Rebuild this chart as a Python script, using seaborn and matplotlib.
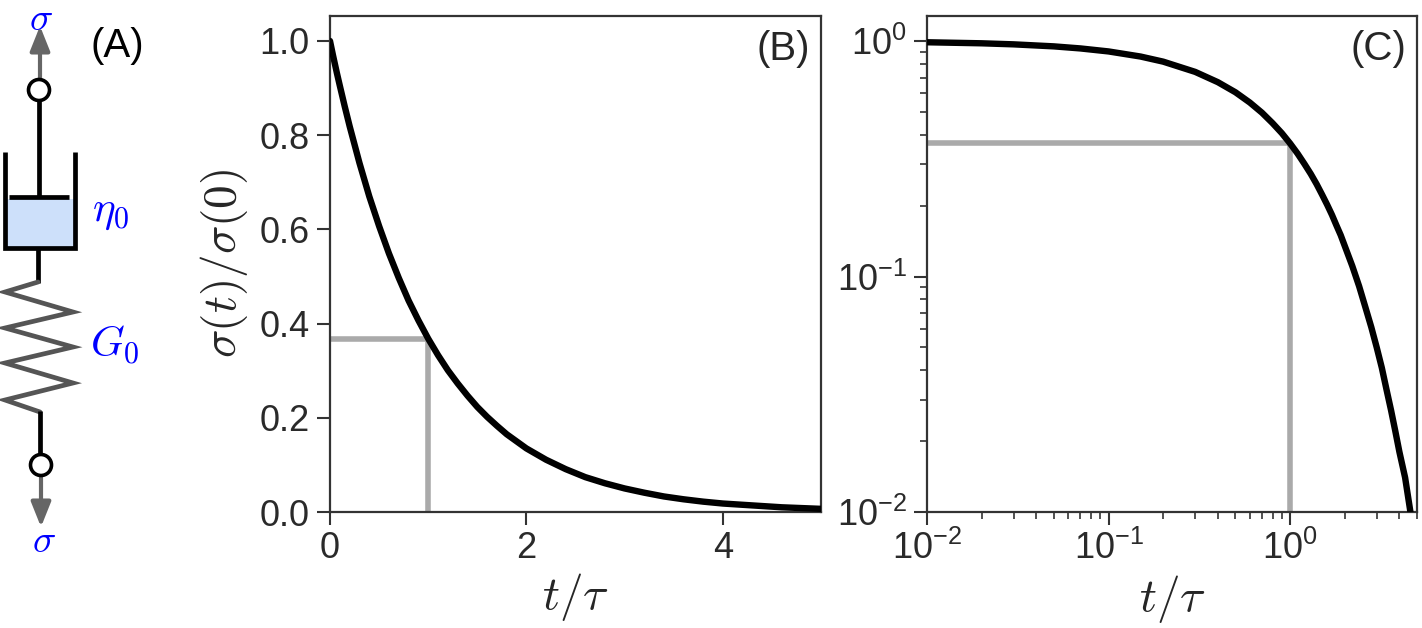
import numpy as np
import pandas as pd
import matplotlib
matplotlib.use('Agg')
import matplotlib.pyplot as plt
import seaborn as sns
from matplotlib.patches import Circle, Rectangle
from matplotlib.ticker import LogLocator, LogFormatterMathtext, NullFormatter

# ---- data ----
t_over_tau = [0, 0.01, 0.02, 0.03, 0.05, 0.07, 0.1, 0.15, 0.2, 0.3, 0.4, 0.5,
              0.6, 0.7, 0.8, 0.9, 1.0, 1.1, 1.2, 1.3, 1.4, 1.5, 1.6, 1.7,
              1.8, 1.9, 2.0, 2.2, 2.4, 2.6, 2.8, 3.0, 3.2, 3.4, 3.6, 3.8,
              4.0, 4.3, 4.6, 5.0]
stress_ratio = [1.000, 0.990, 0.980, 0.970, 0.951, 0.932, 0.905, 0.861, 0.819,
                0.741, 0.670, 0.607, 0.549, 0.497, 0.449, 0.407, 0.368, 0.333,
                0.301, 0.273, 0.247, 0.223, 0.202, 0.183, 0.165, 0.150, 0.135,
                0.111, 0.091, 0.074, 0.061, 0.050, 0.041, 0.033, 0.027, 0.022,
                0.018, 0.014, 0.010, 0.0067]
ref_t = 1.0        # t = tau
ref_s = 0.368      # 1/e
lin_xticks = [0, 2, 4]
lin_yticks = [0.0, 0.2, 0.4, 0.6, 0.8, 1.0]

df = pd.DataFrame({'t': t_over_tau, 's': stress_ratio})

# ---- style ----
sns.set_style('ticks')
plt.rcParams['font.family'] = ['Liberation Sans', 'DejaVu Sans']
plt.rcParams['mathtext.fontset'] = 'cm'
spine_c = '#333333'
plt.rcParams.update({
    'axes.edgecolor': spine_c, 'axes.linewidth': 1.6,
    'xtick.color': spine_c, 'ytick.color': spine_c,
    'xtick.labelcolor': '#2a2a2a', 'ytick.labelcolor': '#2a2a2a',
    'xtick.major.size': 9.5, 'ytick.major.size': 9.5,
    'xtick.minor.size': 5, 'ytick.minor.size': 5,
    'xtick.major.width': 1.5, 'ytick.major.width': 1.5,
    'xtick.minor.width': 1.2, 'ytick.minor.width': 1.2,
    'xtick.major.pad': 4, 'ytick.major.pad': 5,
    'xtick.labelsize': 26, 'ytick.labelsize': 26,
    'xtick.direction': 'out', 'ytick.direction': 'out',
})

W, H = 1422, 628
fig = plt.figure(figsize=(W / 100, H / 100), dpi=100)

black_lw = 4.6
gray_c = '#aaaaaa'
gray_lw = 4.0
label_fs = 34
panel_fs = 29

# ---- panel B ----
ax_b = fig.add_axes([330 / W, 1 - 512 / H, 491 / W, 496 / H])
ax_b.plot([0, ref_t], [ref_s, ref_s], color=gray_c, lw=gray_lw, solid_capstyle='butt', zorder=2)
ax_b.plot([ref_t, ref_t], [0, ref_s], color=gray_c, lw=gray_lw, solid_capstyle='butt', zorder=2)
sns.lineplot(data=df, x='t', y='s', ax=ax_b, color='black', lw=black_lw,
             estimator=None, sort=True, zorder=3)
ax_b.set_xlim(0, 5)
ax_b.set_ylim(0, 1.053)
ax_b.set_xticks(lin_xticks)
ax_b.set_yticks(lin_yticks)
ax_b.set_yticklabels([f'{v:.1f}' for v in lin_yticks])
ax_b.set_xlabel(r'$t/\tau$', fontsize=label_fs, labelpad=4)
ax_b.set_ylabel(r'$\sigma(t)/\sigma(0)$', fontsize=label_fs, labelpad=7)
ax_b.text(0.978, 0.972, '(B)', transform=ax_b.transAxes, ha='right', va='top', fontsize=panel_fs)

# ---- panel C ----
ax_c = fig.add_axes([927 / W, 1 - 512 / H, 490 / W, 496 / H])
dfc = df[df['t'] > 0]
ax_c.set_xscale('log')
ax_c.set_yscale('log')
ax_c.plot([0.01, ref_t], [ref_s, ref_s], color=gray_c, lw=gray_lw, solid_capstyle='butt', zorder=2)
ax_c.plot([ref_t, ref_t], [0.01, ref_s], color=gray_c, lw=gray_lw, solid_capstyle='butt', zorder=2)
sns.lineplot(data=dfc, x='t', y='s', ax=ax_c, color='black', lw=black_lw,
             estimator=None, sort=True, zorder=3)
ax_c.set_xlim(0.01, 5)
ax_c.set_ylim(0.01, 1.28)
for axis in (ax_c.xaxis, ax_c.yaxis):
    axis.set_major_locator(LogLocator(base=10, numticks=10))
    axis.set_major_formatter(LogFormatterMathtext())
    axis.set_minor_locator(LogLocator(base=10, subs=np.arange(2, 10), numticks=10))
    axis.set_minor_formatter(NullFormatter())
ax_c.set_xlabel(r'$t/\tau$', fontsize=label_fs, labelpad=4)
ax_c.set_ylabel('')
ax_c.text(0.978, 0.972, '(C)', transform=ax_c.transAxes, ha='right', va='top', fontsize=panel_fs)

# ---- panel A: Maxwell element schematic ----
ax_a = fig.add_axes([0, 0, 200 / W, 1])
ax_a.set_xlim(0, 200)
ax_a.set_ylim(H, 0)
ax_a.axis('off')
rod_lw = 3.4
arrow_kw = dict(arrowstyle='-|>,head_length=0.75,head_width=0.3', color='#666666',
                lw=3, shrinkA=0, shrinkB=0, mutation_scale=20)
ax_a.annotate('', xy=(40, 26), xytext=(40, 79), arrowprops=arrow_kw)
ax_a.annotate('', xy=(41, 527), xytext=(41, 477), arrowprops=arrow_kw)
ax_a.add_patch(Circle((39, 90), 10.5, fc='white', ec='black', lw=2.6, zorder=3))
ax_a.add_patch(Circle((41, 465), 10.5, fc='white', ec='black', lw=2.6, zorder=3))
ax_a.plot([39, 39], [101, 197], color='black', lw=rod_lw, solid_capstyle='butt')
ax_a.add_patch(Rectangle((5, 199), 70, 49, fc='#cde0fa', ec='none', zorder=1))
ax_a.plot([5, 5, 75, 75], [152, 248, 248, 152], color='black', lw=rod_lw,
          solid_joinstyle='miter', solid_capstyle='butt', zorder=2)
ax_a.plot([9, 69], [197, 197], color='black', lw=rod_lw, solid_capstyle='butt', zorder=2)
ax_a.plot([38, 38], [248, 283], color='black', lw=rod_lw, solid_capstyle='butt')
ax_a.plot([38, 5, 73, 5, 73, 5, 73, 5, 40],
          [282, 292, 312, 328, 347, 363, 383, 400, 412],
          color='#555555', lw=3.4, solid_joinstyle='miter')
ax_a.plot([40, 40], [411, 455], color='black', lw=rod_lw, solid_capstyle='butt')
ax_a.text(41, 2, r'$\sigma$', color='blue', fontsize=28, ha='center', va='top')
ax_a.text(44, 542, r'$\sigma$', color='blue', fontsize=28, ha='center', va='center')
ax_a.text(111, 212, r'$\eta_0$', color='blue', fontsize=31, ha='center', va='center')
ax_a.text(115, 345, r'$G_0$', color='blue', fontsize=31, ha='center', va='center')
ax_a.text(117, 46, '(A)', color='black', fontsize=panel_fs, ha='center', va='center')

fig.savefig('out.png', dpi=100)
